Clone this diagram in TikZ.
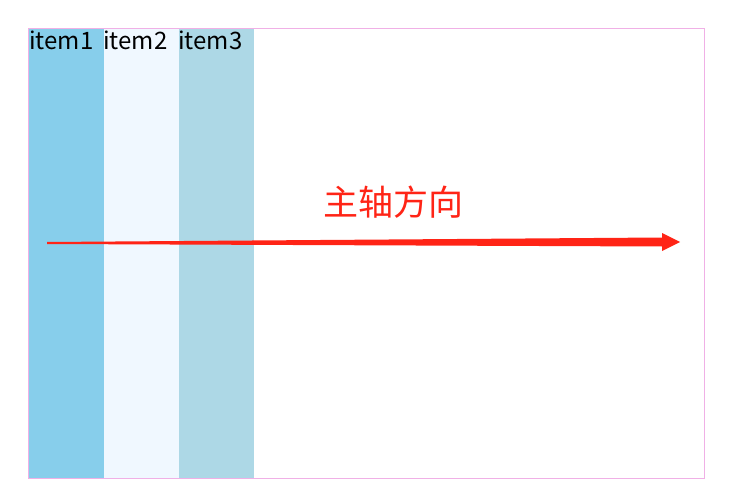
\documentclass[tikz,border=0pt]{standalone}
\usepackage{fontspec}
\setmainfont{Noto Sans CJK SC}
\usepackage{tikz}
\usetikzlibrary{positioning,calc}
\definecolor{skyblue}{HTML}{87CEEB}
\definecolor{aliceblue}{HTML}{F0F8FF}
\definecolor{lightblue}{HTML}{ADD8E6}
\definecolor{boxpink}{HTML}{F0B0E6}
\definecolor{axisred}{HTML}{FF2416}
\tikzset{
	column/.style = {anchor = north west, inner sep = 0, outer sep = 0, minimum width = 75pt, minimum height = 449pt},
	itemlabel/.style = {anchor = north west, inner sep = 0, font = \fontsize{24}{24}\selectfont}
}

\begin{document}
\begin{tikzpicture}[x = 1pt, y = -1pt]
	\useasboundingbox (0,0) rectangle (737,503);
	\node[draw = boxpink, line width = 1pt, anchor = north west, inner sep = 0, outer sep = 0, minimum width = 676pt, minimum height = 450pt] (box) at (28.5,28.5) {};
	\node[column, fill = skyblue] (col1) at (29,29) {};
	\node[column, fill = aliceblue, right = 0pt of col1] (col2) {};
	\node[column, fill = lightblue, right = 0pt of col2] (col3) {};
	\node[itemlabel] (item1) at ($(col1.north west)+(0,2)$) {item1};
	\node[itemlabel] (item2) at ($(col2.north west)+(-1,2)$) {item2};
	\node[itemlabel] (item3) at ($(col3.north west)+(-1,2)$) {item3};
	%\draw[->, line width = 2pt, axisred] (47,243) -- (680,242);
	\coordinate (tail) at (47,243);
	\coordinate (head) at (680,242);
	\fill[axisred] ($(tail)+(0,-1)$) -- ($(head)+(-18,-4.5)$) -- ($(head)+(-18,-9)$) -- (head) -- ($(head)+(-18,9)$) -- ($(head)+(-18,4.5)$) -- ($(tail)+(0,1)$) -- cycle;
	\node[align = center, text = axisred, font = \fontsize{35}{35}\selectfont] (axis) at (393,202) {主轴方向};
\end{tikzpicture}
\end{document}
